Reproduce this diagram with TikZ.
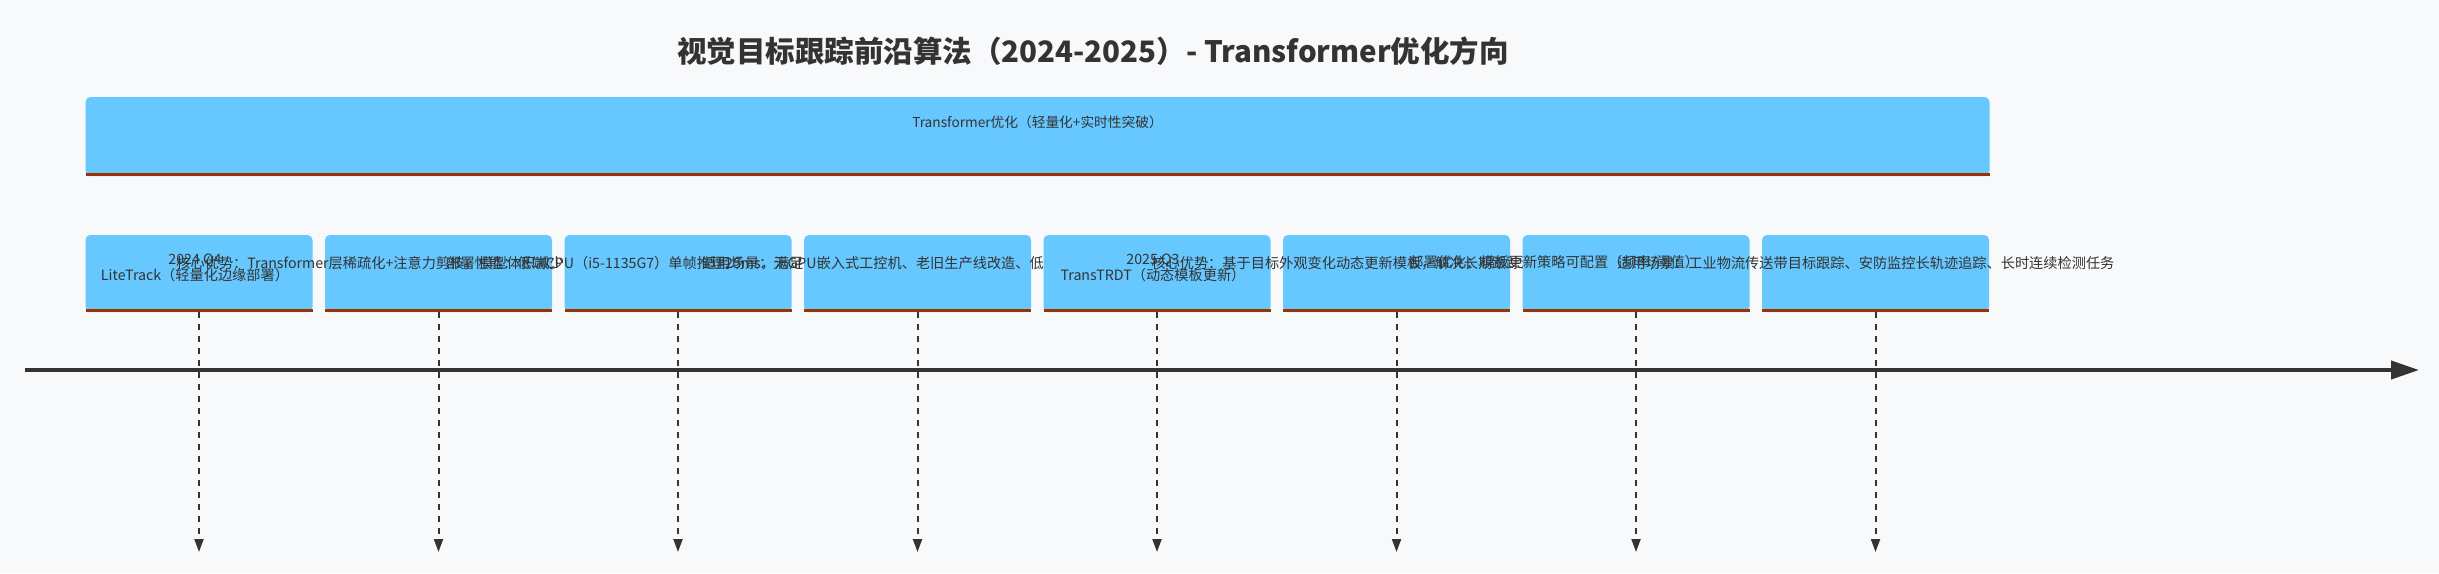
\documentclass[tikz,border=0pt]{standalone}
\usepackage{fontspec}
\setmainfont{Noto Sans CJK SC}
\usetikzlibrary{arrows.meta,positioning}
\definecolor{pagebg}{HTML}{F8F9FB}
\definecolor{boxblue}{HTML}{66C8FF}
\definecolor{boxbrown}{HTML}{993300}
\definecolor{inkgray}{HTML}{333333}
\tikzset{
  secbox/.style={
    fill=boxblue,
    rounded corners=2.5pt,
    minimum width=952pt,
    minimum height=39.5pt,
    inner sep=0pt,
    outer sep=0pt
  },
  evbox/.style={
    fill=boxblue,
    rounded corners=2.5pt,
    minimum width=113.5pt,
    minimum height=38.5pt,
    inner sep=0pt,
    outer sep=0pt
  },
  botline/.style={fill=boxbrown},
  evtext/.style={
    text=inkgray,
    font=\fontsize{7.1}{8}\selectfont,
    inner sep=0pt
  },
  titletext/.style={
    text=inkgray,
    font=\fontsize{14.75}{16}\selectfont\bfseries,
    inner sep=0pt
  },
  evarrow/.style={
    draw=inkgray,
    line width=1pt,
    dash pattern=on 3pt off 3pt,
    -{Triangle[length=6.5pt,width=4.5pt]}
  },
  tline/.style={
    draw=inkgray,
    line width=2pt,
    -{Triangle[length=14pt,width=9pt]}
  }
}

\begin{document}
\begin{tikzpicture}[x=0.5pt,y=-0.5pt,node distance=6.25pt]
  \fill[pagebg] (0,0) rectangle (2439,573);
  \useasboundingbox (0,0) rectangle (2439,573);

  \node[titletext] (title) at (1093,51)
    {视觉目标跟踪前沿算法（2024-2025）- Transformer优化方向};

  % section bar
  \node[secbox] (sec) at (1037.5,136.5) {};
  \fill[botline] ([yshift=1.75pt]sec.south west) rectangle (sec.south east);
  \node[evtext,font=\fontsize{6.85}{8}\selectfont] (sectext) at (1037.5,122)
    {Transformer优化（轻量化+实时性突破）};

  % periods, drawn one after another
  \node[evbox] (e1) at (199,273.5) {};
  \fill[botline] ([yshift=1.75pt]e1.south west) rectangle (e1.south east);
  \node[evtext,align=center] (t1) at (195,268)
    {2024 Q4\\LiteTrack（轻量化边缘部署）};

  \node[evbox,right=of e1] (e2) {};
  \fill[botline] ([yshift=1.75pt]e2.south west) rectangle (e2.south east);
  \node[evtext,anchor=west] (t2) at (176,263)
    {核心优势：Transformer层稀疏化+注意力剪枝，模型体积减少};

  \node[evbox,right=of e2] (e3) {};
  \fill[botline] ([yshift=1.75pt]e3.south west) rectangle (e3.south east);
  \node[evtext,anchor=west] (t3) at (446,263)
    {部署性能：低端CPU（i5-1135G7）单帧推理25ms，满足实时};

  \node[evbox,right=of e3] (e4) {};
  \fill[botline] ([yshift=1.75pt]e4.south west) rectangle (e4.south east);
  \node[evtext,anchor=west] (t4) at (702,263)
    {适用场景：无GPU嵌入式工控机、老旧生产线改造、低};

  \node[evbox,right=of e4] (e5) {};
  \fill[botline] ([yshift=1.75pt]e5.south west) rectangle (e5.south east);
  \node[evtext,align=center] (t5) at (1153,268)
    {2025 Q3\\TransTRDT（动态模板更新）};

  \node[evbox,right=of e5] (e6) {};
  \fill[botline] ([yshift=1.75pt]e6.south west) rectangle (e6.south east);
  \node[evtext,anchor=west] (t6) at (1151,263)
    {核心优势：基于目标外观变化动态更新模板，解决长期跟踪漂移};

  \node[evbox,right=of e6] (e7) {};
  \fill[botline] ([yshift=1.75pt]e7.south west) rectangle (e7.south east);
  \node[evtext,anchor=west] (t7) at (1409,263)
    {部署优化：模板更新策略可配置（频率/阈值）};

  \node[evbox,right=of e7] (e8) {};
  \fill[botline] ([yshift=1.75pt]e8.south west) rectangle (e8.south east);
  \node[evtext,anchor=west] (t8) at (1617,263)
    {适用场景：工业物流传送带目标跟踪、安防监控长轨迹追踪、长时连续检测任务};

  % time axis
  \coordinate (tl0) at (25,370);
  \coordinate (tl1) at (2419,370);
  \draw[tline] (tl0) -- (tl1);

  \coordinate (dend) at (0,552);
  \draw[evarrow] (e1.south) -- (e1.south |- dend);
  \draw[evarrow] (e2.south) -- (e2.south |- dend);
  \draw[evarrow] (e3.south) -- (e3.south |- dend);
  \draw[evarrow] (e4.south) -- (e4.south |- dend);
  \draw[evarrow] (e5.south) -- (e5.south |- dend);
  \draw[evarrow] (e6.south) -- (e6.south |- dend);
  \draw[evarrow] (e7.south) -- (e7.south |- dend);
  \draw[evarrow] (e8.south) -- (e8.south |- dend);
\end{tikzpicture}
\end{document}
